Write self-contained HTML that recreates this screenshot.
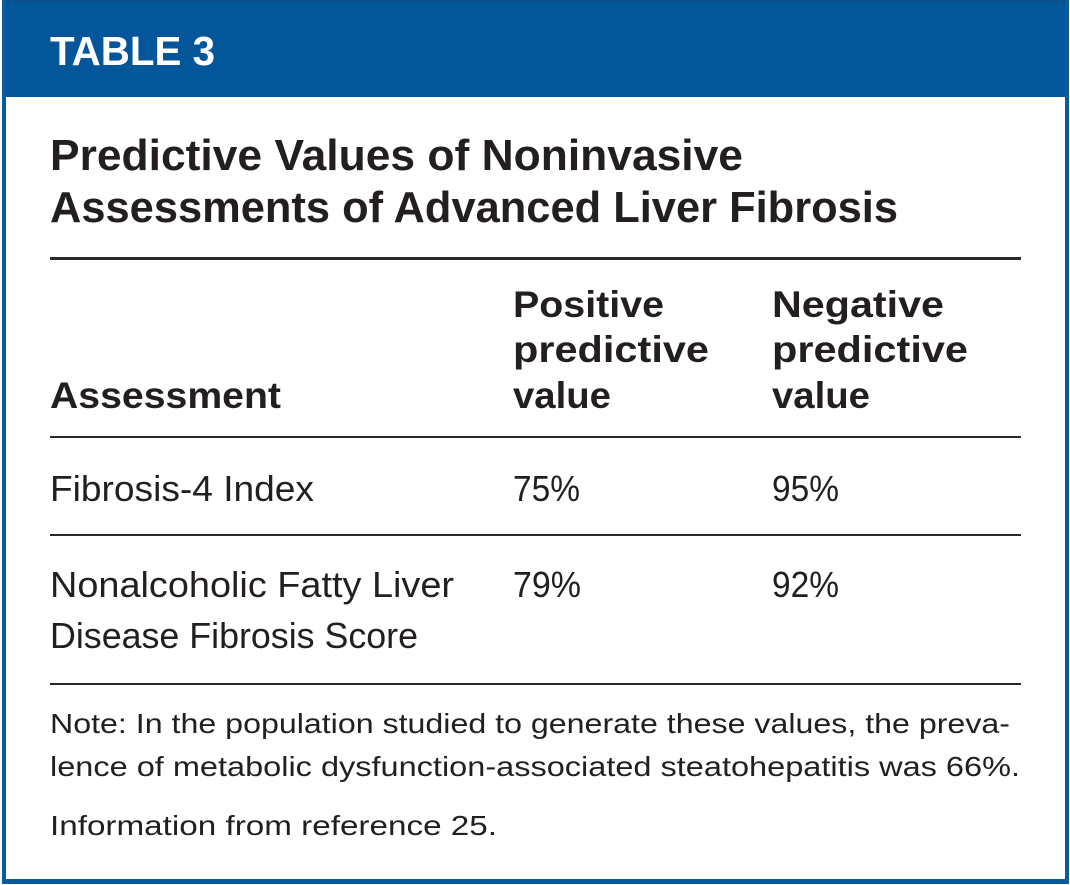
<!DOCTYPE html>
<html>
<head>
<meta charset="utf-8">
<style>
  html,body{margin:0;padding:0;background:#fff;}
  body{width:1070px;height:885px;overflow:hidden;}
  svg{display:block;}
  .b{font-family:"Liberation Sans",sans-serif;font-weight:bold;fill:#231f20;}
  .r{font-family:"Liberation Sans",sans-serif;font-weight:normal;fill:#231f20;}
</style>
</head>
<body>
<svg width="1070" height="885" viewBox="0 0 1070 885" xmlns="http://www.w3.org/2000/svg">
  <rect x="0" y="0" width="1070" height="885" fill="#ffffff"/>
  <!-- header band -->
  <rect x="2" y="0" width="1067" height="97" fill="#03569a"/>
  <rect x="2" y="0" width="1067" height="2" fill="#0b4f8c"/>
  <!-- frame -->
  <rect x="2" y="0" width="4" height="884" fill="#0a5a9e"/>
  <rect x="1065" y="0" width="4" height="884" fill="#0a5a9e"/>
  <rect x="2" y="879" width="1067" height="5" fill="#0a5a9e"/>

  <text x="50" y="65" font-family="Liberation Sans, sans-serif" font-weight="bold" font-size="41" fill="#ffffff" textLength="165" lengthAdjust="spacingAndGlyphs">TABLE 3</text>

  <text class="b" x="50" y="170" font-size="44" textLength="693" lengthAdjust="spacingAndGlyphs">Predictive Values of Noninvasive</text>
  <text class="b" x="50" y="222" font-size="44" textLength="848" lengthAdjust="spacingAndGlyphs">Assessments of Advanced Liver Fibrosis</text>

  <!-- rules -->
  <rect x="50" y="257" width="971" height="3" fill="#2b2829"/>
  <rect x="50" y="436" width="971" height="2" fill="#2b2829"/>
  <rect x="50" y="534" width="971" height="2" fill="#2b2829"/>
  <rect x="50" y="683" width="971" height="2" fill="#2b2829"/>

  <!-- column headers -->
  <text class="b" x="50" y="408" font-size="37" textLength="231" lengthAdjust="spacingAndGlyphs">Assessment</text>

  <text class="b" x="513" y="317" font-size="37" textLength="151" lengthAdjust="spacingAndGlyphs">Positive</text>
  <text class="b" x="513" y="362" font-size="37" textLength="196" lengthAdjust="spacingAndGlyphs">predictive</text>
  <text class="b" x="513" y="408" font-size="37" textLength="98" lengthAdjust="spacingAndGlyphs">value</text>

  <text class="b" x="772" y="317" font-size="37" textLength="172" lengthAdjust="spacingAndGlyphs">Negative</text>
  <text class="b" x="772" y="362" font-size="37" textLength="196" lengthAdjust="spacingAndGlyphs">predictive</text>
  <text class="b" x="772" y="408" font-size="37" textLength="98" lengthAdjust="spacingAndGlyphs">value</text>

  <!-- row 1 -->
  <text class="r" x="50" y="501" font-size="36" textLength="264" lengthAdjust="spacingAndGlyphs">Fibrosis-4 Index</text>
  <text class="r" x="513" y="501" font-size="36" textLength="67" lengthAdjust="spacingAndGlyphs">75%</text>
  <text class="r" x="772" y="501" font-size="36" textLength="67" lengthAdjust="spacingAndGlyphs">95%</text>

  <!-- row 2 -->
  <text class="r" x="50" y="597" font-size="36" textLength="404" lengthAdjust="spacingAndGlyphs">Nonalcoholic Fatty Liver</text>
  <text class="r" x="50" y="648" font-size="36" textLength="368" lengthAdjust="spacingAndGlyphs">Disease Fibrosis Score</text>
  <text class="r" x="513" y="597" font-size="36" textLength="68" lengthAdjust="spacingAndGlyphs">79%</text>
  <text class="r" x="772" y="597" font-size="36" textLength="67" lengthAdjust="spacingAndGlyphs">92%</text>

  <!-- notes -->
  <text class="r" x="50" y="733" font-size="28" textLength="960" lengthAdjust="spacingAndGlyphs">Note: In the population studied to generate these values, the preva-</text>
  <text class="r" x="50" y="776" font-size="28" textLength="970" lengthAdjust="spacingAndGlyphs">lence of metabolic dysfunction-associated steatohepatitis was 66%.</text>
  <text class="r" x="50" y="835" font-size="28" textLength="447" lengthAdjust="spacingAndGlyphs">Information from reference 25.</text>
</svg>
</body>
</html>
